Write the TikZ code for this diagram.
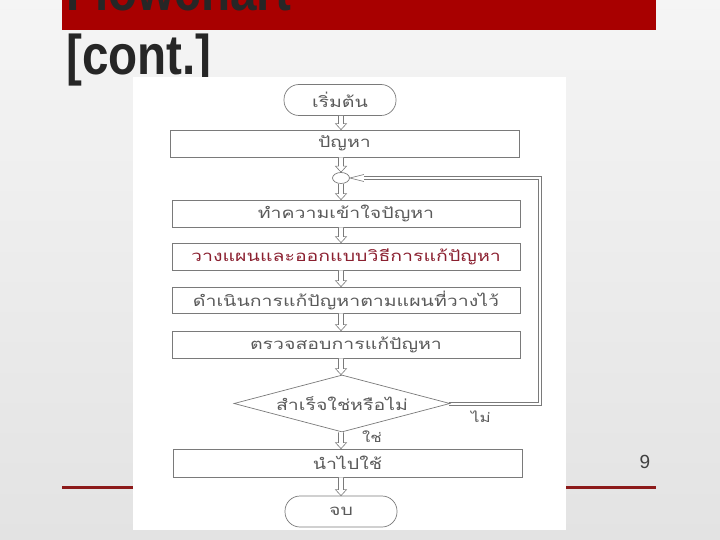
\documentclass[tikz,border=0pt]{standalone}
\usepackage{fontspec}
\setmainfont{Liberation Sans}
\newfontfamily\thaifont[Script=Thai, FakeStretch=1.3]{Loma}
\usetikzlibrary{shapes.geometric,calc}
\definecolor{barred}{HTML}{A80000}
\definecolor{linered}{HTML}{8C1A1A}
\definecolor{flowgray}{HTML}{7A7A7A}
\definecolor{txtgray}{HTML}{5A5A5A}
\definecolor{planred}{HTML}{8B2030}
\definecolor{titledark}{HTML}{262626}
\tikzset{
 box/.style={draw=flowgray, line width=0.7pt, fill=white, rectangle, minimum width=348pt, minimum height=27pt, inner sep=0pt, font=\thaifont\fontsize{15}{17}\selectfont, text=txtgray},
 term/.style={box, rounded corners=15pt, minimum width=112pt, minimum height=31pt},
 connel/.style={draw=flowgray, line width=0.7pt, fill=white, ellipse, minimum width=17pt, minimum height=11pt, inner sep=0pt},
 decis/.style={box, diamond, minimum width=216pt, minimum height=57pt, aspect=3.8},
 lbl/.style={font=\thaifont\fontsize{13}{15}\selectfont, text=txtgray, inner sep=0pt},
 hollow/.style={draw=flowgray, line width=0.6pt, fill=white},
 loopline/.style={draw=flowgray, line width=0.75pt},
}
\newcommand\harr[2]{%
 \draw[hollow] let \p1=(spine |- #1.south), \p2=(spine |- #2.north) in
 (\x1-2.5pt,\y1) -- (\x1-2.5pt,\y2+6pt) -- (\x1-5.5pt,\y2+6pt) -- (\x2,\y2) -- (\x1+5.5pt,\y2+6pt) -- (\x1+2.5pt,\y2+6pt) -- (\x1+2.5pt,\y1);}
\begin{document}
\begin{tikzpicture}[x=1pt,y=-1pt]
\useasboundingbox (0,0) rectangle (720,540);
\begin{scope}
\clip (0,0) rectangle (720,540);
\shade[top color=gray!8, bottom color=gray!22] (0,0) rectangle (720,540);
\fill[barred] (62,0) rectangle (656,30);
\node[anchor=base west, inner sep=0pt, text=titledark, font=\bfseries\fontsize{56}{60}\selectfont] (t1) at (66,11) {\scalebox{0.85}[1]{Flowchart}};
\node[anchor=base west, inner sep=0pt, text=titledark, font=\bfseries\fontsize{56}{60}\selectfont] (t2) at (66,75) {\scalebox{0.85}[1]{[cont.]}};
\draw[linered, line width=3pt] (62,487) -- (656,487);
\fill[white] (133,77) rectangle (566,530);
\end{scope}
\node[font=\fontsize{19}{20}\selectfont, text=black!75, inner sep=0pt] (pg) at (645,462) {9};

\coordinate (spine) at (341,0);
\node[term] (start) at (340,100) {เริ่มต้น};
\node[box, minimum width=349pt] (prob) at (344.5,143.5) {ปัญหา};
\node[connel] (conn) at (341,178) {};
\node[box] (und) at (346,213.5) {ทำความเข้าใจปัญหา};
\node[box, text=planred] (plan) at (346,256.5) {วางแผนและออกแบบวิธีการแก้ปัญหา};
\node[box, minimum height=26pt] (exec) at (346,300) {ดำเนินการแก้ปัญหาตามแผนที่วางไว้};
\node[box] (chk) at (346,344.5) {ตรวจสอบการแก้ปัญหา};
\node[decis] (dec) at (342,403.5) {สำเร็จใช่หรือไม่};
\node[box, minimum width=349pt, minimum height=28pt] (use) at (347.5,463) {นำไปใช้};
\node[term] (stop) at (341,511.5) {จบ};
\node[lbl] (no) at (481,417) {ไม่};
\node[lbl] (yes) at (372,437) {ใช่};

\coordinate (loopx) at (540,0);
\coordinate (loopb) at (dec.east -| loopx);
\coordinate (loopt) at (conn.east -| loopx);
\draw[loopline] ($(dec.east)+(-1,1.6)$) -- ($(loopb)+(1.6,1.6)$) -- ($(loopt)+(1.6,-1.6)$) -- ($(conn.east)+(13,-1.6)$);
\draw[loopline] ($(dec.east)+(-1,-1.6)$) -- ($(loopb)+(-1.6,-1.6)$) -- ($(loopt)+(-1.6,1.6)$) -- ($(conn.east)+(13,1.6)$);
\draw[hollow] ($(conn.east)+(14,-3.5)$) -- (conn.east) -- ($(conn.east)+(14,3.5)$);

\harr{start}{prob}
\harr{prob}{conn}
\harr{conn}{und}
\harr{und}{plan}
\harr{plan}{exec}
\harr{exec}{chk}
\harr{chk}{dec}
\harr{dec}{use}
\harr{use}{stop}
\end{tikzpicture}
\end{document}
